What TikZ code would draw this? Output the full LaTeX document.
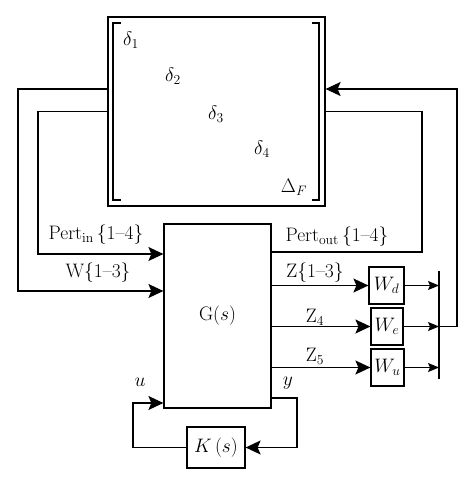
\RequirePackage{fix-cm}
\documentclass[tikz,border=0pt]{standalone}
\usepackage{xcolor}
\usetikzlibrary{arrows.meta,positioning}

\tikzset{
	box/.style={draw, line width=1.2pt, inner sep=0pt},
	bigarr/.style={-{Stealth[length=15pt,width=14pt,inset=3pt]}},
	smallarr/.style={-{Stealth[length=11pt,width=9pt,inset=2pt]}},
}

\begin{document}
\begin{tikzpicture}[x=1pt,y=-1pt,line width=1.2pt,font=\fontsize{19.5}{23}\selectfont]
				\useasboundingbox (0,0) rectangle (474,485);
				\node[box, minimum width=217pt, minimum height=189pt] (Delta) at (216.5,111.5) {};
				\draw (121,23) -| (113,200) -- (121,200);
				\draw (312,23) -| (319,200) -- (312,200);
				\node (d1) at (131,40) {$\delta_1$};
				\node (d2) at (173,76) {$\delta_2$};
				\node (d3) at (216,114) {$\delta_3$};
				\node (d4) at (262,149) {$\delta_4$};
				\node (dF) at (294,187) {$\Delta_F$};
				
				\node[box, minimum width=107pt, minimum height=184pt] (G) at (217.5,316) {$\mathrm{G}(s)$};
				\node[box, minimum width=35pt, minimum height=37pt] (Wd) at (386.5,285.5) {$W_d$};
				\node[box, minimum width=32pt, minimum height=37pt] (We) at (387,326.5) {$W_e$};
				\node[box, minimum width=33pt, minimum height=37pt] (Wu) at (387.5,367.5) {$W_u$};
				\node[box, minimum width=58pt, minimum height=41pt] (K) at (216,447.5) {$K\,(s)$};
				
				\node (pin) at (96,235) {Pert$_{\mathrm{in}}$\,\{1--4\}};
				\node (win) at (98,273) {W\{1--3\}};
				\node (pout) at (337,237) {Pert$_{\mathrm{out}}$\,\{1--4\}};
				\node (z13) at (315,273) {Z\{1--3\}};
				\node (z4) at (315,317) {Z$_4$};
				\node (z5) at (315,356) {Z$_5$};
				\node (ul) at (140,382) {$u$};
				\node (yl) at (288,383) {$y$};
				
				\coordinate (bustop) at (439,271);
				\coordinate (busbot) at (439,379);
				\coordinate (r1) at (457,89);
				\coordinate (r2) at (422,252);
				\coordinate (l1) at (18,291);
				\coordinate (l2) at (38,254);
				\coordinate (u1) at (133,403);
				\coordinate (y1) at (297,398);
				
				\draw (bustop) -- (busbot);
				\draw[bigarr] (G.east |- Wd) -- (Wd);
				\draw[bigarr] (G.east |- We) -- (We);
				\draw[bigarr] (G.east |- Wu) -- (Wu);
				\draw[smallarr] (Wd.east) -- (Wd.east -| bustop);
				\draw[smallarr] (We.east) -- (We.east -| bustop);
				\draw[smallarr] (Wu.east) -- (Wu.east -| bustop);
				
				\draw[bigarr] (We -| bustop) -| (r1) -- (r1 -| Delta.east);
				\draw (Delta.east) -| (r2) -- (r2 -| G.east);
				\draw[bigarr] (Delta.west |- r1) -| (l1) -- (l1 -| G.west);
				\draw[bigarr] (Delta.west) -| (l2) -- (l2 -| G.west);
				
				\draw[bigarr] (K.west) -| (u1) -- (u1 -| G.west);
				\draw[bigarr] (y1 -| G.east) -- (y1) |- (K.east);
			\end{tikzpicture}
\end{document}
